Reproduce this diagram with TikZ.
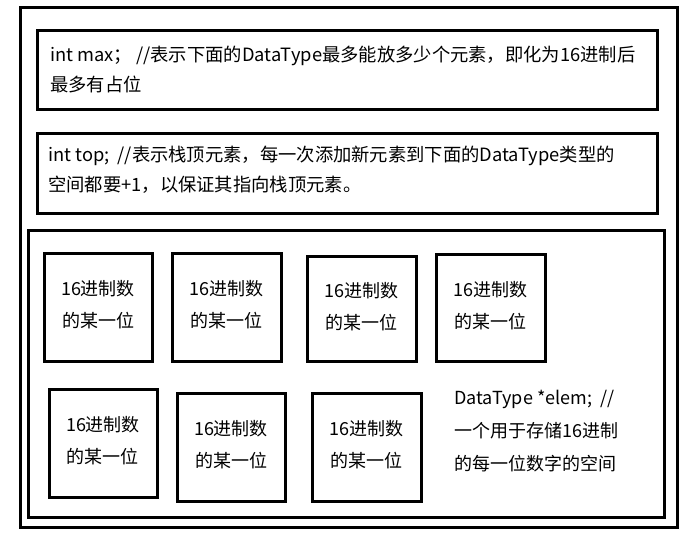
\documentclass[tikz,border=0pt]{standalone}
\usepackage{fontspec}
\setmainfont{Noto Sans CJK SC}
\begin{document}
\begin{tikzpicture}[x=1pt,y=-1pt,
  box/.style={draw=black,line width=3pt},
  txt/.style={anchor=west,font=\fontsize{18.3}{30}\selectfont,align=left,inner sep=0pt},
  cell/.style={font=\fontsize{18}{32}\selectfont,align=center}]
\useasboundingbox[fill=white] (0,0) rectangle (689,540);
\draw[box] (20,8) rectangle (677,527);
\draw[box] (37,31) rectangle (657,110);
\node[txt] (t1) at (50,70) {int max；~//表示下面的DataType最多能放多少个元素，即化为16进制后\\最多有占位};
\draw[box] (37,134) rectangle (657,214);
\node[txt] (t2) at (48,170) {int top;~~//表示栈顶元素，每一次添加新元素到下面的DataType类型的\\空间都要+1，以保证其指向栈顶元素。};
\draw[box] (28,231) rectangle (664,517);
\foreach \a/\b/\c/\d/\n in {44/254/152/362/c1,172/254/281/362/c2,307/257/416/362/c3,436/255/545/362/c4,49/390/157/497/c5,177/394/285/501/c6,312/394/421/501/c7}{
  \draw[box] (\a,\b) rectangle (\c,\d);
  \node[cell] (\n) at ({(\a+\c)/2},{(\b+\d)/2-3}) {16进制数\\的某一位};
}
\node[txt,font=\fontsize{18}{33}\selectfont] (t3) at (454,431) {DataType *elem;~~//\\一个用于存储16进制\\的每一位数字的空间};
\end{tikzpicture}
\end{document}
